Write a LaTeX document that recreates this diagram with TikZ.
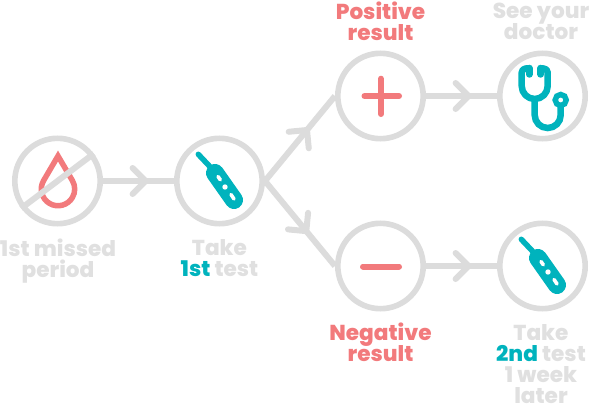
\documentclass[tikz,border=0pt]{standalone}
\usepackage{fontspec}
\setmainfont{Poppins}[BoldFont={Poppins ExtraBold}]
\usetikzlibrary{decorations.markings}
\definecolor{ringgray}{HTML}{DCDCDC}
\definecolor{labelgray}{HTML}{E0E0E0}
\definecolor{coral}{HTML}{F27A7C}
\definecolor{teal2}{HTML}{00B3BD}
\newcommand{\lblfont}{\bfseries\fontsize{21.6}{21}\selectfont\lineskiplimit=-100pt\relax}
\tikzset{
 x=1pt,y=-1pt,
 ring/.style={circle,draw=ringgray,line width=5.6pt,minimum size=85.4pt,inner sep=0pt,fill=white},
 lbl/.style={font=\lblfont,align=center,text=labelgray,inner sep=0pt},
 redlbl/.style={lbl,text=coral},
 conn/.style={ringgray,line width=6pt},
 iconred/.style={coral,line width=6pt,line cap=round},
 iconteal/.style={teal2,line width=6.5pt,line cap=round},
 chev/.style={postaction={decorate,decoration={markings,mark=at position #1 with {\draw[ringgray,line width=6pt,line cap=round,line join=round] (-13,-13) -- (0,0) -- (-13,13);}}}},
}
\newcommand{\thermo}[1]{%
 \begin{scope}[shift={(#1)}]
  \draw[iconteal,line width=5.5pt] (-21.2,-26.7) -- (-9.5,-14.3);
  \draw[teal2,line width=18pt,line cap=round] (-4.5,-8) -- (14.5,19);
  \draw[white,line width=3.6pt,line cap=round] (-1.5,-4.5) -- (0.8,-1.2);
  \fill[white] (5.5,6) circle[radius=2.7pt];
  \draw[white,line width=3.6pt,line cap=round] (11.5,13.5) -- (14.5,18);
 \end{scope}}
\begin{document}
\begin{tikzpicture}
\useasboundingbox (0,0) rectangle (592,404);
\node[ring] (a) at (57.5,181) {};
\node[ring] (b) at (219.5,181) {};
\node[ring] (c) at (380.5,96) {};
\node[ring] (d) at (542.5,96) {};
\node[ring] (e) at (380.5,266) {};
\node[ring] (f) at (542.5,266) {};
\draw[conn,chev=0.6] (a) -- (b);
\draw[conn,chev=0.6] (c) -- (d);
\draw[conn,chev=0.6] (e) -- (f);
\draw[conn,chev=0.6] (b.east) -- (c.west);
\draw[conn,chev=0.59] (b.east) -- (e.west);
\node[lbl] (t1) at (58,260.7) {1st missed\\period\vphantom{p}};
\node[lbl] (t2) at (219.5,260.7) {Take\\{\color{teal2}1st} test\vphantom{p}};
\node[redlbl] (t3) at (380.5,24) {Positive\\result\vphantom{p}};
\node[lbl] (t4) at (541,24.5) {See your\\doctor\vphantom{p}};
\node[redlbl] (t5) at (380.5,345.5) {Negative\\result\vphantom{p}};
\node[lbl] (t6) at (541,363.7) {Take\\{\color{teal2}2nd} test\\1 week\\later};
% plus and minus
\draw[iconred] (364.5,96) -- (399,96) (381,78.7) -- (381,114);
\draw[iconred] (363,266.5) -- (399,266.5);
% blood drop and slash
\begin{scope}[shift={(58,189)},y=1pt]
 \draw[coral,line width=5.5pt,miter limit=10] (0,33) -- (-14.4,8.4) arc[start angle=149.6,end angle=390.4,radius=16.7pt] -- cycle;
\end{scope}
\draw[conn] (a.37) -- (a.217);
% thermometers
\thermo{219.5,181}
\thermo{542.5,266}
% stethoscope
\draw[iconteal,line cap=butt,line join=round,rounded corners=4pt] (529.3,68.5) -- (521.7,68.5) [rounded corners=13pt] -- (521.7,99) -- (547.7,99) [rounded corners=4pt] -- (547.7,68.5) -- (540.7,68.5);
\draw[iconteal] (529.3,68) -- (529.3,74.5) (540.7,68) -- (540.7,74.5);
\draw[iconteal,line cap=butt,rounded corners=13pt] (534.7,99) -- (534.7,128) -- (560.7,128) -- (560.7,106);
\draw[teal2,line width=5.5pt,fill=white] (560.7,100) circle[radius=5.5pt];
\end{tikzpicture}
\end{document}
